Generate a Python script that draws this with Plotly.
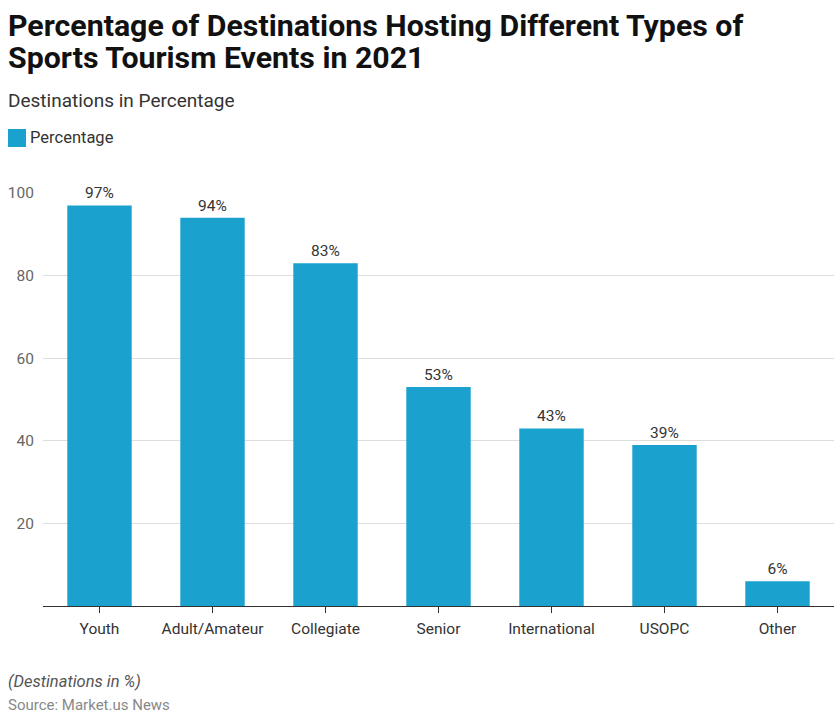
import plotly.graph_objects as go

categories = ["Youth", "Adult/Amateur", "Collegiate", "Senior", "International", "USOPC", "Other"]
values = [97, 94, 83, 53, 43, 39, 6]
y_ticks = [20, 40, 60, 80, 100]

W, H = 840, 723
L, R, T, B = 43, 834, 193, 606

def px_x(x):
    return (x - L) / (R - L)

def px_y(y):
    return (B - y) / (B - T)

fig = go.Figure()
fig.add_trace(go.Bar(
    x=categories, y=values, name="Percentage",
    marker=dict(color="#1aa1cd", line=dict(width=0)),
    texttemplate="%{y}%", textposition="outside", cliponaxis=False,
    textfont=dict(size=15.5, color="#333333", family="Roboto"),
    showlegend=False,
))

fig.update_layout(
    width=W, height=H,
    margin=dict(l=L, r=W - R, t=T, b=H - B),
    paper_bgcolor="white", plot_bgcolor="white",
    bargap=0.43,
    font=dict(family="Roboto", color="#333333"),
    xaxis=dict(
        showgrid=False, showline=True, linecolor="#333333", linewidth=1,
        ticks="outside", ticklen=6, tickcolor="#333333",
        tickfont=dict(size=15.5, color="#333333"), ticklabelstandoff=2,
    ),
    yaxis=dict(
        range=[0, 100], tickvals=y_ticks, showgrid=True, gridcolor="#dddddd",
        gridwidth=1, zeroline=False, showline=False, ticks="",
        tickfont=dict(size=15.5, color="#666666"), ticklabelstandoff=8,
    ),
)

annotations = [
    dict(text="<b>Percentage of Destinations Hosting Different Types of</b>",
         x=px_x(6), y=px_y(25), xanchor="left", yanchor="middle", align="left",
         font=dict(size=30.3, color="#111111", family="Roboto")),
    dict(text="<b>Sports Tourism Events in 2021</b>",
         x=px_x(6), y=px_y(58), xanchor="left", yanchor="middle", align="left",
         font=dict(size=30.3, color="#111111", family="Roboto")),
    dict(text="Destinations in Percentage", x=px_x(6), y=px_y(101), xanchor="left", yanchor="middle",
         font=dict(size=19, color="#333333", family="Roboto")),
    dict(text="Percentage", x=px_x(28), y=px_y(138), xanchor="left", yanchor="middle",
         font=dict(size=16.5, color="#333333", family="Roboto")),
    dict(text="<i>(Destinations in %)</i>", x=px_x(6), y=px_y(681), xanchor="left", yanchor="middle",
         font=dict(size=16.5, color="#555555", family="Roboto")),
    dict(text="Source: Market.us News", x=px_x(6), y=px_y(705), xanchor="left", yanchor="middle",
         font=dict(size=15, color="#888888", family="Roboto")),
]
for a in annotations:
    a.update(xref="paper", yref="paper", showarrow=False)
fig.update_layout(annotations=annotations)

fig.add_shape(type="rect", xref="paper", yref="paper",
              x0=px_x(8), x1=px_x(26), y0=px_y(147), y1=px_y(129),
              fillcolor="#1aa1cd", line=dict(width=0))

fig.write_html("out.html")
